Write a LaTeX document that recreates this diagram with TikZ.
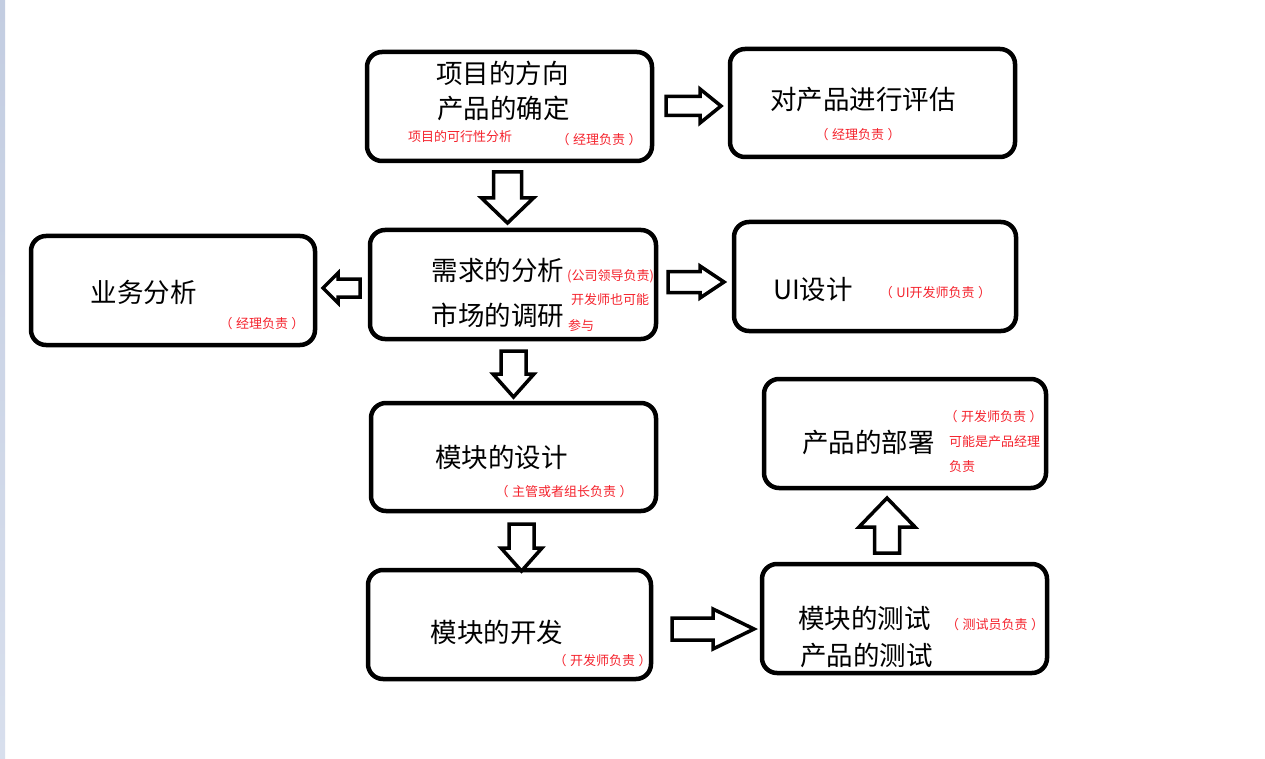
\documentclass[tikz,border=0pt]{standalone}
\usepackage{fontspec}
\setmainfont{Noto Sans CJK SC}
\definecolor{notered}{RGB}{245,35,45}
\definecolor{stripA}{RGB}{195,205,225}
\definecolor{stripB}{RGB}{216,223,237}
\newcommand\blockarr[8]{%
  \coordinate (#1) at (#2,#3);
  \draw[barrow, shift={(#1)}, rotate=#4] (0,-#7) -- (#6,-#7) -- (#6,-#8) -- (#5,0) -- (#6,#8) -- (#6,#7) -- (0,#7) -- cycle;}
\newcommand\lpx{（\hspace{3.5pt}}
\newcommand\rpx{\hspace{3.5pt}）}
\begin{document}
\begin{tikzpicture}[x=1pt,y=-1pt,
  box/.style={draw=black, line width=4.5pt, rounded corners=15pt, fill=white, inner sep=0pt, outer sep=0pt},
  maintext/.style={font=\fontsize{26.5}{30}\selectfont, inner sep=0pt},
  notetext/.style={text=notered, font=\fontsize{13}{15}\selectfont, inner sep=0pt},
  barrow/.style={draw=black, line width=3.5pt, fill=white, line join=miter}]
\useasboundingbox (0,0) rectangle (1265,759);
\fill[white] (0,0) rectangle (1265,759);
\shade[top color=stripA, bottom color=stripB] (0,0) rectangle (5,759);

% boxes
\node[box, minimum width=285pt, minimum height=109pt] (b1) at (509.5,106.5) {};
\node[box, minimum width=285pt, minimum height=108pt] (b2) at (872.5,103) {};
\node[box, minimum width=284pt, minimum height=109pt] (b3) at (173,290.5) {};
\node[box, minimum width=286pt, minimum height=109pt] (b4) at (513,284.5) {};
\node[box, minimum width=282pt, minimum height=109pt] (b5) at (875,276.5) {};
\node[box, minimum width=282pt, minimum height=109pt] (b6) at (905,433.5) {};
\node[box, minimum width=285pt, minimum height=108pt] (b7) at (513.5,457) {};
\node[box, minimum width=283pt, minimum height=109pt] (b8) at (509.5,624.5) {};
\node[box, minimum width=285pt, minimum height=109pt] (b9) at (904.5,618.5) {};

% block arrows
\blockarr{a1}{666}{106}{0}{55}{34}{9.5}{17}
\blockarr{a2}{507.5}{172}{-90}{51}{26}{14}{26}
\blockarr{a3}{360}{288}{180}{37}{22}{9}{15}
\blockarr{a4}{668}{282}{0}{56}{32}{10.5}{16}
\blockarr{a5}{513.5}{351}{-90}{46}{23}{12.5}{20.5}
\blockarr{a6}{521.5}{524}{-90}{47}{24}{12.5}{20.5}
\blockarr{a7}{672}{629}{0}{82}{41}{11}{20}
\blockarr{a8}{887}{553}{90}{55}{26}{12.5}{28}

% box 1
\node[maintext] (t1a) at (502.5,73) {项目的方向};
\node[maintext] (t1b) at (503.5,108) {产品的确定};
\node[notetext] (n1a) at (460,137) {项目的可行性分析};
\node[notetext] (n1b) at (599,140) {\lpx 经理负责\rpx};
% box 2
\node[maintext] (t2) at (863,100) {对产品进行评估};
\node[notetext] (n2) at (858,135) {\lpx 经理负责\rpx};
% box 3
\node[maintext] (t3) at (143.5,292) {业务分析};
\node[notetext] (n3) at (262,324) {\lpx 经理负责\rpx};
% box 4
\node[maintext] (t4a) at (498,270) {需求的分析};
\node[maintext] (t4b) at (498,315) {市场的调研};
\node[notetext, anchor=west] (n4a) at (567,276) {(公司领导负责)};
\node[notetext, anchor=west] (n4b) at (571,300) {开发师也可能};
\node[notetext, anchor=west] (n4c) at (568,326) {参与};
% box 5
\node[maintext] (t5) at (813,290) {UI设计};
\node[notetext] (n5) at (935.5,293) {\lpx UI开发师负责\rpx};
% box 6
\node[maintext] (t6) at (868.5,442) {产品的部署};
\node[notetext] (n6a) at (993.5,417) {\lpx 开发师负责\rpx};
\node[notetext, anchor=west] (n6b) at (949,442) {可能是产品经理};
\node[notetext, anchor=west] (n6c) at (949,467) {负责};
% box 7
\node[maintext] (t7) at (501.5,457) {模块的设计};
\node[notetext] (n7) at (564,492) {\lpx 主管或者组长负责\rpx};
% box 8
\node[maintext] (t8) at (497,632) {模块的开发};
\node[notetext] (n8) at (602.5,661) {\lpx 开发师负责\rpx};
% box 9
\node[maintext] (t9a) at (864.5,618) {模块的测试};
\node[maintext] (t9b) at (866.5,655) {产品的测试};
\node[notetext] (n9) at (995,625) {\lpx 测试员负责\rpx};
\end{tikzpicture}
\end{document}
